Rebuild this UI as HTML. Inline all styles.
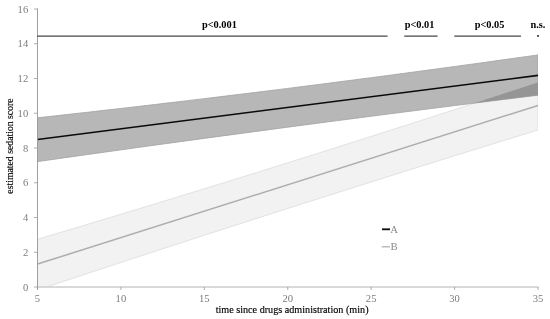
<!DOCTYPE html>
<html><head><meta charset="utf-8"><title>Estimated sedation score</title>
<style>
html,body{margin:0;padding:0;background:#fff;}
svg{display:block;}
text{font-family:"Liberation Serif","Times New Roman",serif;}
.tk{font-size:10.6px;fill:#7c7c7c;}
.ti{font-size:10.16px;fill:#000;stroke:#000;stroke-width:0.15px;}
.pv{font-size:10.35px;font-weight:bold;fill:#000;}
.lg{font-size:10.8px;fill:#8a8a8a;}
</style></head><body>
<svg width="550" height="319" viewBox="0 0 550 319">
<rect width="550" height="319" fill="#fff"/>
<defs><clipPath id="cp"><rect x="37.5" y="0" width="500.5" height="287.0"/></clipPath></defs>
<g clip-path="url(#cp)">
<polygon points="37.50,239.30 54.18,234.33 70.87,229.34 87.55,224.32 104.23,219.30 120.92,214.25 137.60,209.19 154.28,204.11 170.97,199.01 187.65,193.89 204.33,188.76 221.02,183.61 237.70,178.44 254.38,173.25 271.07,168.05 287.75,162.82 304.43,157.58 321.12,152.33 337.80,147.05 354.48,141.76 371.17,136.45 387.85,131.12 404.53,125.77 421.22,120.41 437.90,115.03 454.58,109.63 471.27,104.21 487.95,98.78 504.63,93.33 521.32,87.86 538.00,82.37 538.00,129.97 521.32,135.11 504.63,140.26 487.95,145.42 471.27,150.60 454.58,155.79 437.90,161.00 421.22,166.22 404.53,171.45 387.85,176.69 371.17,181.95 354.48,187.23 337.80,192.52 321.12,197.82 304.43,203.13 287.75,208.46 271.07,213.80 254.38,219.16 237.70,224.53 221.02,229.91 204.33,235.31 187.65,240.72 170.97,246.14 154.28,251.58 137.60,257.03 120.92,262.50 104.23,267.98 87.55,273.47 70.87,278.97 54.18,284.49 37.50,290.03" fill="#f2f2f2" stroke="#dcdcdc" stroke-width="0.8"/>
<polygon points="37.50,117.79 54.18,115.96 70.87,114.11 87.55,112.24 104.23,110.35 120.92,108.44 137.60,106.52 154.28,104.57 170.97,102.61 187.65,100.63 204.33,98.64 221.02,96.62 237.70,94.59 254.38,92.54 271.07,90.47 287.75,88.38 304.43,86.27 321.12,84.15 337.80,82.01 354.48,79.85 371.17,77.67 387.85,75.47 404.53,73.26 421.22,71.03 437.90,68.78 454.58,66.51 471.27,64.22 487.95,61.92 504.63,59.59 521.32,57.25 538.00,54.89 538.00,95.24 521.32,97.30 504.63,99.36 487.95,101.43 471.27,103.52 454.58,105.62 437.90,107.72 421.22,109.84 404.53,111.97 387.85,114.11 371.17,116.27 354.48,118.43 337.80,120.60 321.12,122.79 304.43,124.98 287.75,127.19 271.07,129.41 254.38,131.64 237.70,133.88 221.02,136.13 204.33,138.39 187.65,140.66 170.97,142.95 154.28,145.24 137.60,147.55 120.92,149.87 104.23,152.19 87.55,154.53 70.87,156.88 54.18,159.24 37.50,161.62" fill="#b7b7b7" stroke="#a2a2a2" stroke-width="0.8"/>
<polygon points="475.44,102.86 476.27,102.59 477.11,102.31 477.94,102.04 478.77,101.77 479.61,101.50 480.44,101.23 481.28,100.96 482.11,100.68 482.95,100.41 483.78,100.14 484.61,99.87 485.45,99.60 486.28,99.32 487.12,99.05 487.95,98.78 488.78,98.51 489.62,98.24 490.45,97.96 491.29,97.69 492.12,97.42 492.95,97.15 493.79,96.87 494.62,96.60 495.46,96.33 496.29,96.06 497.13,95.78 497.96,95.51 498.79,95.24 499.63,94.97 500.46,94.69 501.30,94.42 502.13,94.15 502.97,93.87 503.80,93.60 504.63,93.33 505.47,93.06 506.30,92.78 507.14,92.51 507.97,92.24 508.80,91.96 509.64,91.69 510.47,91.42 511.31,91.14 512.14,90.87 512.98,90.60 513.81,90.32 514.64,90.05 515.48,89.78 516.31,89.50 517.15,89.23 517.98,88.95 518.81,88.68 519.65,88.41 520.48,88.13 521.32,87.86 522.15,87.59 522.99,87.31 523.82,87.04 524.65,86.76 525.49,86.49 526.32,86.21 527.16,85.94 527.99,85.67 528.82,85.39 529.66,85.12 530.49,84.84 531.33,84.57 532.16,84.29 533.00,84.02 533.83,83.75 534.66,83.47 535.50,83.20 536.33,82.92 537.17,82.65 538.00,82.37 538.00,95.24 537.17,95.35 536.33,95.45 535.50,95.55 534.66,95.65 533.83,95.76 533.00,95.86 532.16,95.96 531.33,96.06 530.49,96.17 529.66,96.27 528.82,96.37 527.99,96.47 527.16,96.58 526.32,96.68 525.49,96.78 524.65,96.89 523.82,96.99 522.99,97.09 522.15,97.19 521.32,97.30 520.48,97.40 519.65,97.50 518.81,97.61 517.98,97.71 517.15,97.81 516.31,97.91 515.48,98.02 514.64,98.12 513.81,98.22 512.98,98.33 512.14,98.43 511.31,98.53 510.47,98.64 509.64,98.74 508.80,98.84 507.97,98.95 507.14,99.05 506.30,99.15 505.47,99.26 504.63,99.36 503.80,99.46 502.97,99.57 502.13,99.67 501.30,99.77 500.46,99.88 499.63,99.98 498.79,100.09 497.96,100.19 497.13,100.29 496.29,100.40 495.46,100.50 494.62,100.60 493.79,100.71 492.95,100.81 492.12,100.92 491.29,101.02 490.45,101.12 489.62,101.23 488.78,101.33 487.95,101.43 487.12,101.54 486.28,101.64 485.45,101.75 484.61,101.85 483.78,101.96 482.95,102.06 482.11,102.16 481.28,102.27 480.44,102.37 479.61,102.48 478.77,102.58 477.94,102.69 477.11,102.79 476.27,102.89 475.44,103.00" fill="#959595"/>
</g>
<line x1="37.50" y1="264.06" x2="538.00" y2="105.43" stroke="#adadad" stroke-width="1.5"/>
<line x1="37.50" y1="139.49" x2="538.00" y2="75.37" stroke="#0a0a0a" stroke-width="1.6"/>
<line x1="37.5" y1="287.0" x2="538.5" y2="287.0" stroke="#cdcdcd" stroke-width="1.4"/>
<line x1="37.5" y1="8.5" x2="37.5" y2="290" stroke="#969696" stroke-width="0.9"/>
<line x1="34" y1="287.00" x2="37.5" y2="287.00" stroke="#999999" stroke-width="0.8"/>
<text class="tk" x="28.2" y="290.50" text-anchor="end">0</text>
<line x1="34" y1="252.25" x2="37.5" y2="252.25" stroke="#999999" stroke-width="0.8"/>
<text class="tk" x="28.2" y="255.75" text-anchor="end">2</text>
<line x1="34" y1="217.50" x2="37.5" y2="217.50" stroke="#999999" stroke-width="0.8"/>
<text class="tk" x="28.2" y="221.00" text-anchor="end">4</text>
<line x1="34" y1="182.75" x2="37.5" y2="182.75" stroke="#999999" stroke-width="0.8"/>
<text class="tk" x="28.2" y="186.25" text-anchor="end">6</text>
<line x1="34" y1="148.00" x2="37.5" y2="148.00" stroke="#999999" stroke-width="0.8"/>
<text class="tk" x="28.2" y="151.50" text-anchor="end">8</text>
<line x1="34" y1="113.25" x2="37.5" y2="113.25" stroke="#999999" stroke-width="0.8"/>
<text class="tk" x="28.2" y="116.75" text-anchor="end">10</text>
<line x1="34" y1="78.50" x2="37.5" y2="78.50" stroke="#999999" stroke-width="0.8"/>
<text class="tk" x="28.2" y="82.00" text-anchor="end">12</text>
<line x1="34" y1="43.75" x2="37.5" y2="43.75" stroke="#999999" stroke-width="0.8"/>
<text class="tk" x="28.2" y="47.25" text-anchor="end">14</text>
<line x1="34" y1="9.00" x2="37.5" y2="9.00" stroke="#999999" stroke-width="0.8"/>
<text class="tk" x="28.2" y="12.50" text-anchor="end">16</text>
<line x1="37.50" y1="287.0" x2="37.50" y2="290" stroke="#999999" stroke-width="0.8"/>
<text class="tk" x="37.50" y="302" text-anchor="middle">5</text>
<line x1="120.92" y1="287.0" x2="120.92" y2="290" stroke="#999999" stroke-width="0.8"/>
<text class="tk" x="120.92" y="302" text-anchor="middle">10</text>
<line x1="204.33" y1="287.0" x2="204.33" y2="290" stroke="#999999" stroke-width="0.8"/>
<text class="tk" x="204.33" y="302" text-anchor="middle">15</text>
<line x1="287.75" y1="287.0" x2="287.75" y2="290" stroke="#999999" stroke-width="0.8"/>
<text class="tk" x="287.75" y="302" text-anchor="middle">20</text>
<line x1="371.17" y1="287.0" x2="371.17" y2="290" stroke="#999999" stroke-width="0.8"/>
<text class="tk" x="371.17" y="302" text-anchor="middle">25</text>
<line x1="454.58" y1="287.0" x2="454.58" y2="290" stroke="#999999" stroke-width="0.8"/>
<text class="tk" x="454.58" y="302" text-anchor="middle">30</text>
<line x1="538.00" y1="287.0" x2="538.00" y2="290" stroke="#999999" stroke-width="0.8"/>
<text class="tk" x="538.00" y="302" text-anchor="middle">35</text>
<text class="ti" x="292.1" y="313.0" text-anchor="middle">time since drugs administration (min)</text>
<text class="ti" style="font-size:9.75px" transform="translate(13.0,146) rotate(-90)" text-anchor="middle">estimated sedation score</text>
<line x1="37.20" y1="36.1" x2="387.55" y2="36.1" stroke="#484848" stroke-width="1.35"/>
<line x1="404.23" y1="36.1" x2="437.60" y2="36.1" stroke="#484848" stroke-width="1.35"/>
<line x1="454.28" y1="36.1" x2="521.02" y2="36.1" stroke="#484848" stroke-width="1.35"/>
<rect x="537" y="35" width="2" height="1.8" fill="#4d4d4d"/>
<text class="pv" x="219.4" y="27.6" text-anchor="middle">p&lt;0.001</text>
<text class="pv" x="419.6" y="27.6" text-anchor="middle">p&lt;0.01</text>
<text class="pv" x="489.5" y="27.6" text-anchor="middle">p&lt;0.05</text>
<text class="pv" x="537.9" y="27.6" text-anchor="middle">n.s.</text>
<line x1="382" y1="229.3" x2="390" y2="229.3" stroke="#0a0a0a" stroke-width="1.8"/>
<text class="lg" x="390.3" y="232.7">A</text>
<line x1="381.7" y1="246.8" x2="390" y2="246.8" stroke="#b4b4b4" stroke-width="1.3"/>
<text class="lg" x="390.5" y="250">B</text>
</svg>
</body></html>
